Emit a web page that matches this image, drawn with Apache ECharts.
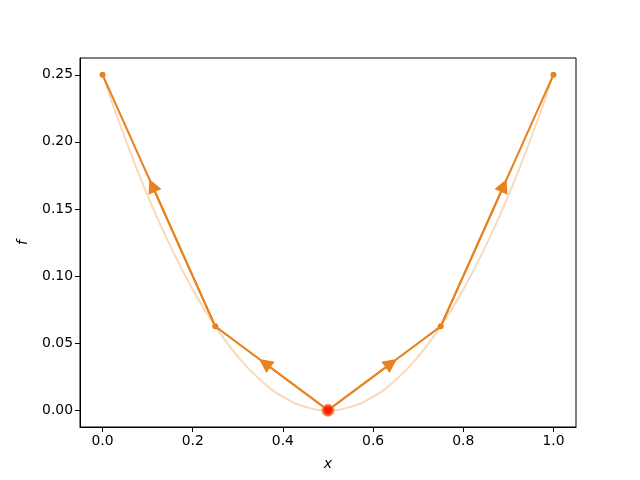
<!DOCTYPE html>
<html><head><meta charset="utf-8">
<script src="https://cdn.jsdelivr.net/npm/echarts@6/dist/echarts.min.js"></script>
<style>html,body{margin:0;padding:0;background:#fff}#c{width:640px;height:480px}</style>
</head><body><div id="c"></div>
<script>
// iterate points
var xs = [0, 0.25, 0.5, 0.75, 1.0];
var fs = [0.25, 0.0625, 0.0, 0.0625, 0.25];
// background curve samples
var curveX = [0,0.05,0.1,0.15,0.2,0.25,0.3,0.35,0.4,0.45,0.5,0.55,0.6,0.65,0.7,0.75,0.8,0.85,0.9,0.95,1.0];
var curveF = [0.25,0.2025,0.16,0.1225,0.09,0.0625,0.04,0.0225,0.01,0.0025,0,0.0025,0.01,0.0225,0.04,0.0625,0.09,0.1225,0.16,0.2025,0.25];
// minimum point
var minX = [0.5], minF = [0.0];
var xTicks = [0,0.2,0.4,0.6,0.8,1.0];
var yTicks = [0,0.05,0.1,0.15,0.2,0.25];
// arrow segments: from inner point to outer point (indices)
var arrowPairs = [[2,1],[1,0],[2,3],[3,4]];

var C = '#e8821e';
var FONT = 'DejaVu Sans';
var curve = curveX.map(function(x,i){return [x, curveF[i]];});
var pts = xs.map(function(x,i){return [x, fs[i]];});
var arrows = arrowPairs.map(function(p){
  var a = pts[p[0]], b = pts[p[1]], t = 0.56;
  return {coords: [a, [a[0]+(b[0]-a[0])*t, a[1]+(b[1]-a[1])*t]]};
});

var chart = echarts.init(document.getElementById('c'), null, {renderer:'canvas'});
chart.setOption({
  animation: false,
  backgroundColor: '#fff',
  grid: {left: 80, right: 64, top: 58, bottom: 53, show: true, borderColor: '#000', borderWidth: 1},
  xAxis: {
    type: 'value', min: -0.05, max: 1.05,
    name: 'x', nameLocation: 'middle', nameGap: 30,
    nameTextStyle: {fontFamily: FONT, fontSize: 14, fontStyle: 'italic', color: '#000'},
    axisLine: {show: true, onZero: false, lineStyle: {color: '#000', width: 1}},
    axisTick: {show: true, length: 5, lineStyle: {color: '#000'}, customValues: xTicks},
    axisLabel: {color: '#000', fontFamily: FONT, fontSize: 13.9, margin: 7, customValues: xTicks,
      formatter: function(v){return v.toFixed(1);}},
    splitLine: {show: false}
  },
  yAxis: {
    type: 'value', min: -0.0125, max: 0.2625,
    name: 'f', nameLocation: 'middle', nameGap: 50, nameRotate: 90,
    nameTextStyle: {fontFamily: FONT, fontSize: 14, fontStyle: 'italic', color: '#000'},
    axisLine: {show: true, onZero: false, lineStyle: {color: '#000', width: 1}},
    axisTick: {show: true, length: 5, lineStyle: {color: '#000'}, customValues: yTicks},
    axisLabel: {color: '#000', fontFamily: FONT, fontSize: 13.9, margin: 7, customValues: yTicks,
      formatter: function(v){return v.toFixed(2);}},
    splitLine: {show: false}
  },
  series: [
    {type: 'line', data: curve, smooth: true, showSymbol: false, symbol: 'none',
     lineStyle: {color: C, width: 2, opacity: 0.3}, z: 1},
    {type: 'line', data: pts, symbol: 'circle', symbolSize: 6, showSymbol: true,
     itemStyle: {color: C}, lineStyle: {color: C, width: 2}, z: 2},
    {type: 'lines', coordinateSystem: 'cartesian2d', data: arrows,
     symbol: ['none', 'triangle'], symbolSize: [12, 14],
     lineStyle: {color: C, width: 2, opacity: 1}, z: 3},
    {type: 'scatter', data: minX.map(function(x,i){return [x, minF[i]];}),
     symbol: 'circle', symbolSize: 11,
     itemStyle: {color: '#ff0000', borderColor: C, borderWidth: 2}, z: 4}
  ]
});
</script></body></html>
